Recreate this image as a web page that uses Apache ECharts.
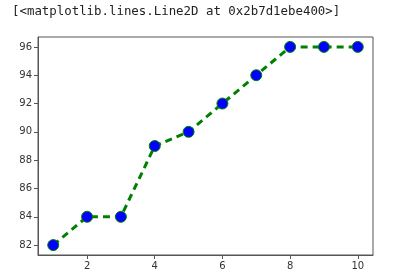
<!DOCTYPE html>
<html><head><meta charset="utf-8">
<script src="https://cdn.jsdelivr.net/npm/echarts@6/dist/echarts.min.js"></script>
<style>html,body{margin:0;padding:0;background:#fff}#c{width:405px;height:279px}</style>
</head><body><div id="c"></div>
<script>
const xValues = [1,2,3,4,5,6,7,8,9,10];
const yValues = [82,84,84,89,90,92,94,96,96,96];
const xTicks = [2,4,6,8,10];
const yTicks = [82,84,86,88,90,92,94,96];
const titleText = '[<matplotlib.lines.Line2D at 0x2b7d1ebe400>]';

const chart = echarts.init(document.getElementById('c'), null, {renderer:'canvas'});
const axisCommon = {
  axisLine:{show:true, lineStyle:{color:'#555', width:1}},
  axisTick:{show:true, length:4, lineStyle:{color:'#555'}},
  axisLabel:{color:'#333', fontSize:10, fontFamily:'DejaVu Sans'},
  splitLine:{show:false}
};
chart.setOption({
  animation:false,
  graphic:[{type:'text', left:12, top:6, style:{text:titleText, fontFamily:'DejaVu Sans Mono', fontSize:12.4, fill:'#222'}}],
  grid:{left:38, top:37, right:32, bottom:24, show:true, borderColor:'#555', borderWidth:1},
  xAxis:Object.assign({}, axisCommon, {type:'value', min:0.55, max:10.45,
    axisTick:{show:true, length:4, lineStyle:{color:'#555'}, customValues:xTicks},
    axisLabel:{color:'#333', fontSize:10, fontFamily:'DejaVu Sans', margin:6, customValues:xTicks}}),
  yAxis:Object.assign({}, axisCommon, {type:'value', min:81.3, max:96.7,
    axisTick:{show:true, length:4, lineStyle:{color:'#555'}, customValues:yTicks},
    axisLabel:{color:'#333', fontSize:10, fontFamily:'DejaVu Sans', margin:6, customValues:yTicks}}),
  series:[{type:'line', data:xValues.map((x,i)=>[x,yValues[i]]),
    lineStyle:{color:'#008000', width:3, type:[7,5]},
    symbol:'circle', symbolSize:11,
    itemStyle:{color:'#0000ff', borderColor:'#008000', borderWidth:1}}]
});
</script></body></html>
